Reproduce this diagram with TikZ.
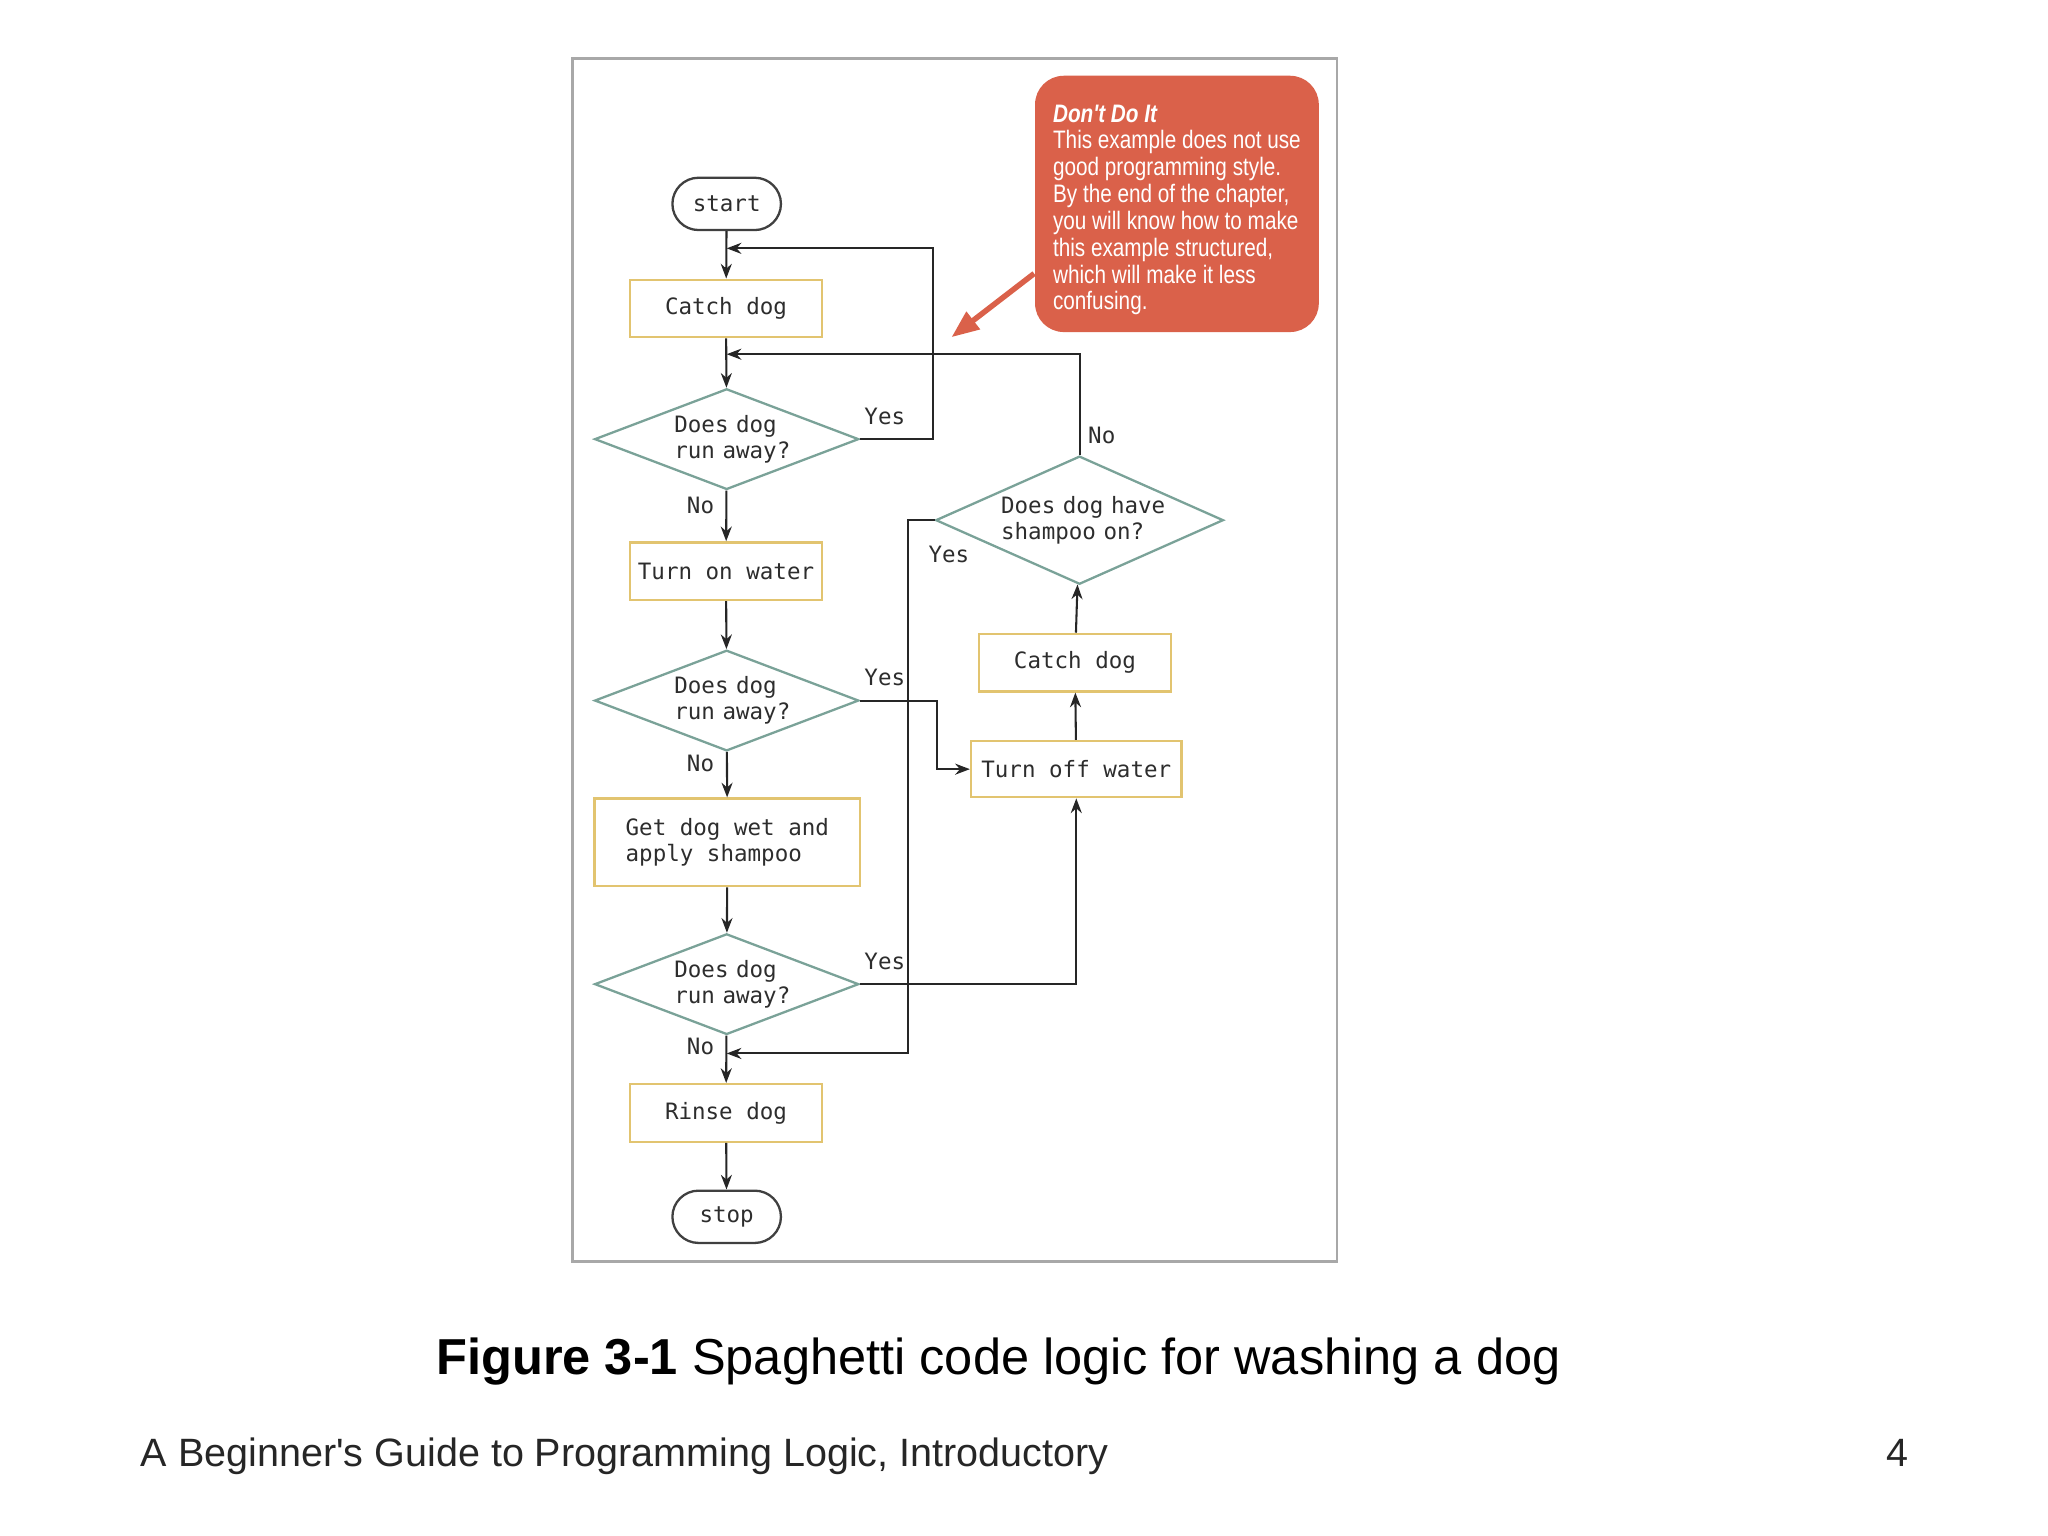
\documentclass[tikz,border=0pt]{standalone}
\usepackage{fontspec}
\setmainfont{Liberation Sans}
\newfontfamily\footfont{Liberation Sans}
\newfontfamily\chartfont{DejaVu Sans Mono}
\newfontfamily\notefont[FakeStretch=0.82]{Liberation Sans}
\usetikzlibrary{arrows.meta,shapes.geometric}
\hfuzz=12pt
\newcommand\asklines[2]{\mbox{#1}\\\mbox{#2}}

\definecolor{boxgold}{RGB}{226,196,112}
\definecolor{diamteal}{RGB}{122,162,152}
\definecolor{notered}{RGB}{218,97,74}
\definecolor{framegray}{RGB}{168,168,168}
\definecolor{inkgray}{RGB}{45,45,45}

\tikzset{
	chart/.style={font=\chartfont\fontsize{4.9}{5.7}\selectfont, text=inkgray},
	procbox/.style={chart, draw=boxgold, line width=0.5pt, minimum width=1.47cm, minimum height=0.44cm, inner sep=0pt},
	decision/.style={chart, diamond, draw=diamteal, line width=0.5pt, inner sep=0pt, aspect=2.6, minimum width=2.02cm, minimum height=0.77cm, text width=0.8cm, align=left},
	terminal/.style={chart, draw=black!75, line width=0.5pt, rounded corners=0.2cm, minimum width=0.83cm, minimum height=0.40cm, inner sep=0pt},
	answer/.style={chart, inner sep=0pt},
	flow/.style={-{Stealth[length=3.2pt,width=2.4pt]}, line width=0.45pt, black!85},
}

\begin{document}
\begin{tikzpicture}[x=0.01cm, y=-0.01cm]
		%%%%% START %%%%%
		\useasboundingbox (0,0) rectangle (1567,1175);
		
		\draw[framegray, line width=0.6pt] (438,45) rectangle (1023,965);
		
		% left column
		\node[terminal] (start) at (556,156) {start};
		\node[procbox] (catch1) at (555.5,236) {Catch dog};
		\node[decision] (ask1) at (556,336) {\asklines{Does dog}{run away?}};
		\node[procbox] (wateron) at (555.5,437) {Turn on water};
		\node[decision] (ask2) at (556,536) {\asklines{Does dog}{run away?}};
		\node[procbox, minimum width=2.03cm, minimum height=0.67cm, align=left] (wet) at (556.5,644.5) {Get dog wet and\\apply shampoo};
		\node[decision] (ask3) at (556,753) {\asklines{Does dog}{run away?}};
		\node[procbox] (rinse) at (555.5,851.5) {Rinse dog};
		\node[terminal] (stop) at (556,931) {stop};
		
		% right column
		\node[decision, aspect=2.3, minimum width=2.2cm, minimum height=0.98cm, text width=1.2cm] (shampoo) at (826,398) {\asklines{Does dog have}{shampoo on?}};
		\node[procbox] (catch2) at (822.5,507) {Catch dog};
		\node[procbox, minimum width=1.61cm, minimum height=0.43cm] (wateroff) at (823.5,588.5) {Turn off water};
		
		\coordinate (j1) at (556,190);
		\coordinate (j2) at (556,271);
		\coordinate (j3) at (556,806);
		
		\draw[flow] (start) -- (catch1);
		\draw[flow] (catch1) -- (ask1);
		\draw[flow] (ask1.east) -- ++(56,0) |- (j1);
		\draw[flow] (shampoo.north) |- (j2);
		\draw[flow] (ask1) -- (wateron);
		\draw[flow] (wateron) -- (ask2);
		\draw[flow] (ask2.east) -- ++(59,0) |- (wateroff.west);
		\draw[flow] (ask2) -- (wet);
		\draw[flow] (wet) -- (ask3);
		\draw[flow] (ask3.east) -| (wateroff.south);
		\draw[flow] (ask3) -- (rinse);
		\draw[flow] (shampoo.west) -- ++(-20,0) |- (j3);
		\draw[flow] (rinse) -- (stop);
		\draw[flow] (wateroff) -- (catch2);
		\draw[flow] (catch2) -- (shampoo);
		
		\node[answer] (yes1) at (677,319) {Yes};
		\node[answer] (no1) at (536,387) {No};
		\node[answer] (yes2) at (677,518) {Yes};
		\node[answer] (no2) at (536,584) {No};
		\node[answer] (yes3) at (677,736) {Yes};
		\node[answer] (no3) at (536,801) {No};
		\node[answer] (noshampoo) at (843,333) {No};
		\node[answer] (yesshampoo) at (726,424) {Yes};
		
		% callout
		\node[fill=notered, rounded corners=0.22cm, minimum width=2.17cm, minimum height=1.96cm, align=left, inner sep=0pt, text=white, font=\notefont\fontsize{5.5}{5.84}\selectfont] (note) at (900.5,156) {\rule{0pt}{0.225cm}\textbf{\textit{Don't Do It}}\\This example does not use\\good programming style.\\By the end of the chapter,\\you will know how to make\\this example structured,\\which will make it less\\confusing.};
		\coordinate (notetip) at (728,258);
		\draw[notered, line width=1.2pt, -{Triangle[length=6pt,width=4.6pt]}] (note.206) -- (notetip);
		
		% caption and footer
		\node[anchor=base, inner sep=0pt, font=\fontsize{11}{13}\selectfont] (caption) at (764,1052) {\textbf{Figure 3-1} Spaghetti code logic for washing a dog};
		\node[anchor=base west, inner sep=0pt, font=\footfont\fontsize{8.6}{10}\selectfont, text=black!85] (footer) at (107,1122) {A Beginner's Guide to Programming Logic, Introductory};
		\node[anchor=base, inner sep=0pt, font=\footfont\fontsize{8.6}{10}\selectfont, text=black!85] (pagenum) at (1452,1122) {4};
		
		%%%%% END %%%%%
\end{tikzpicture}
\end{document}
